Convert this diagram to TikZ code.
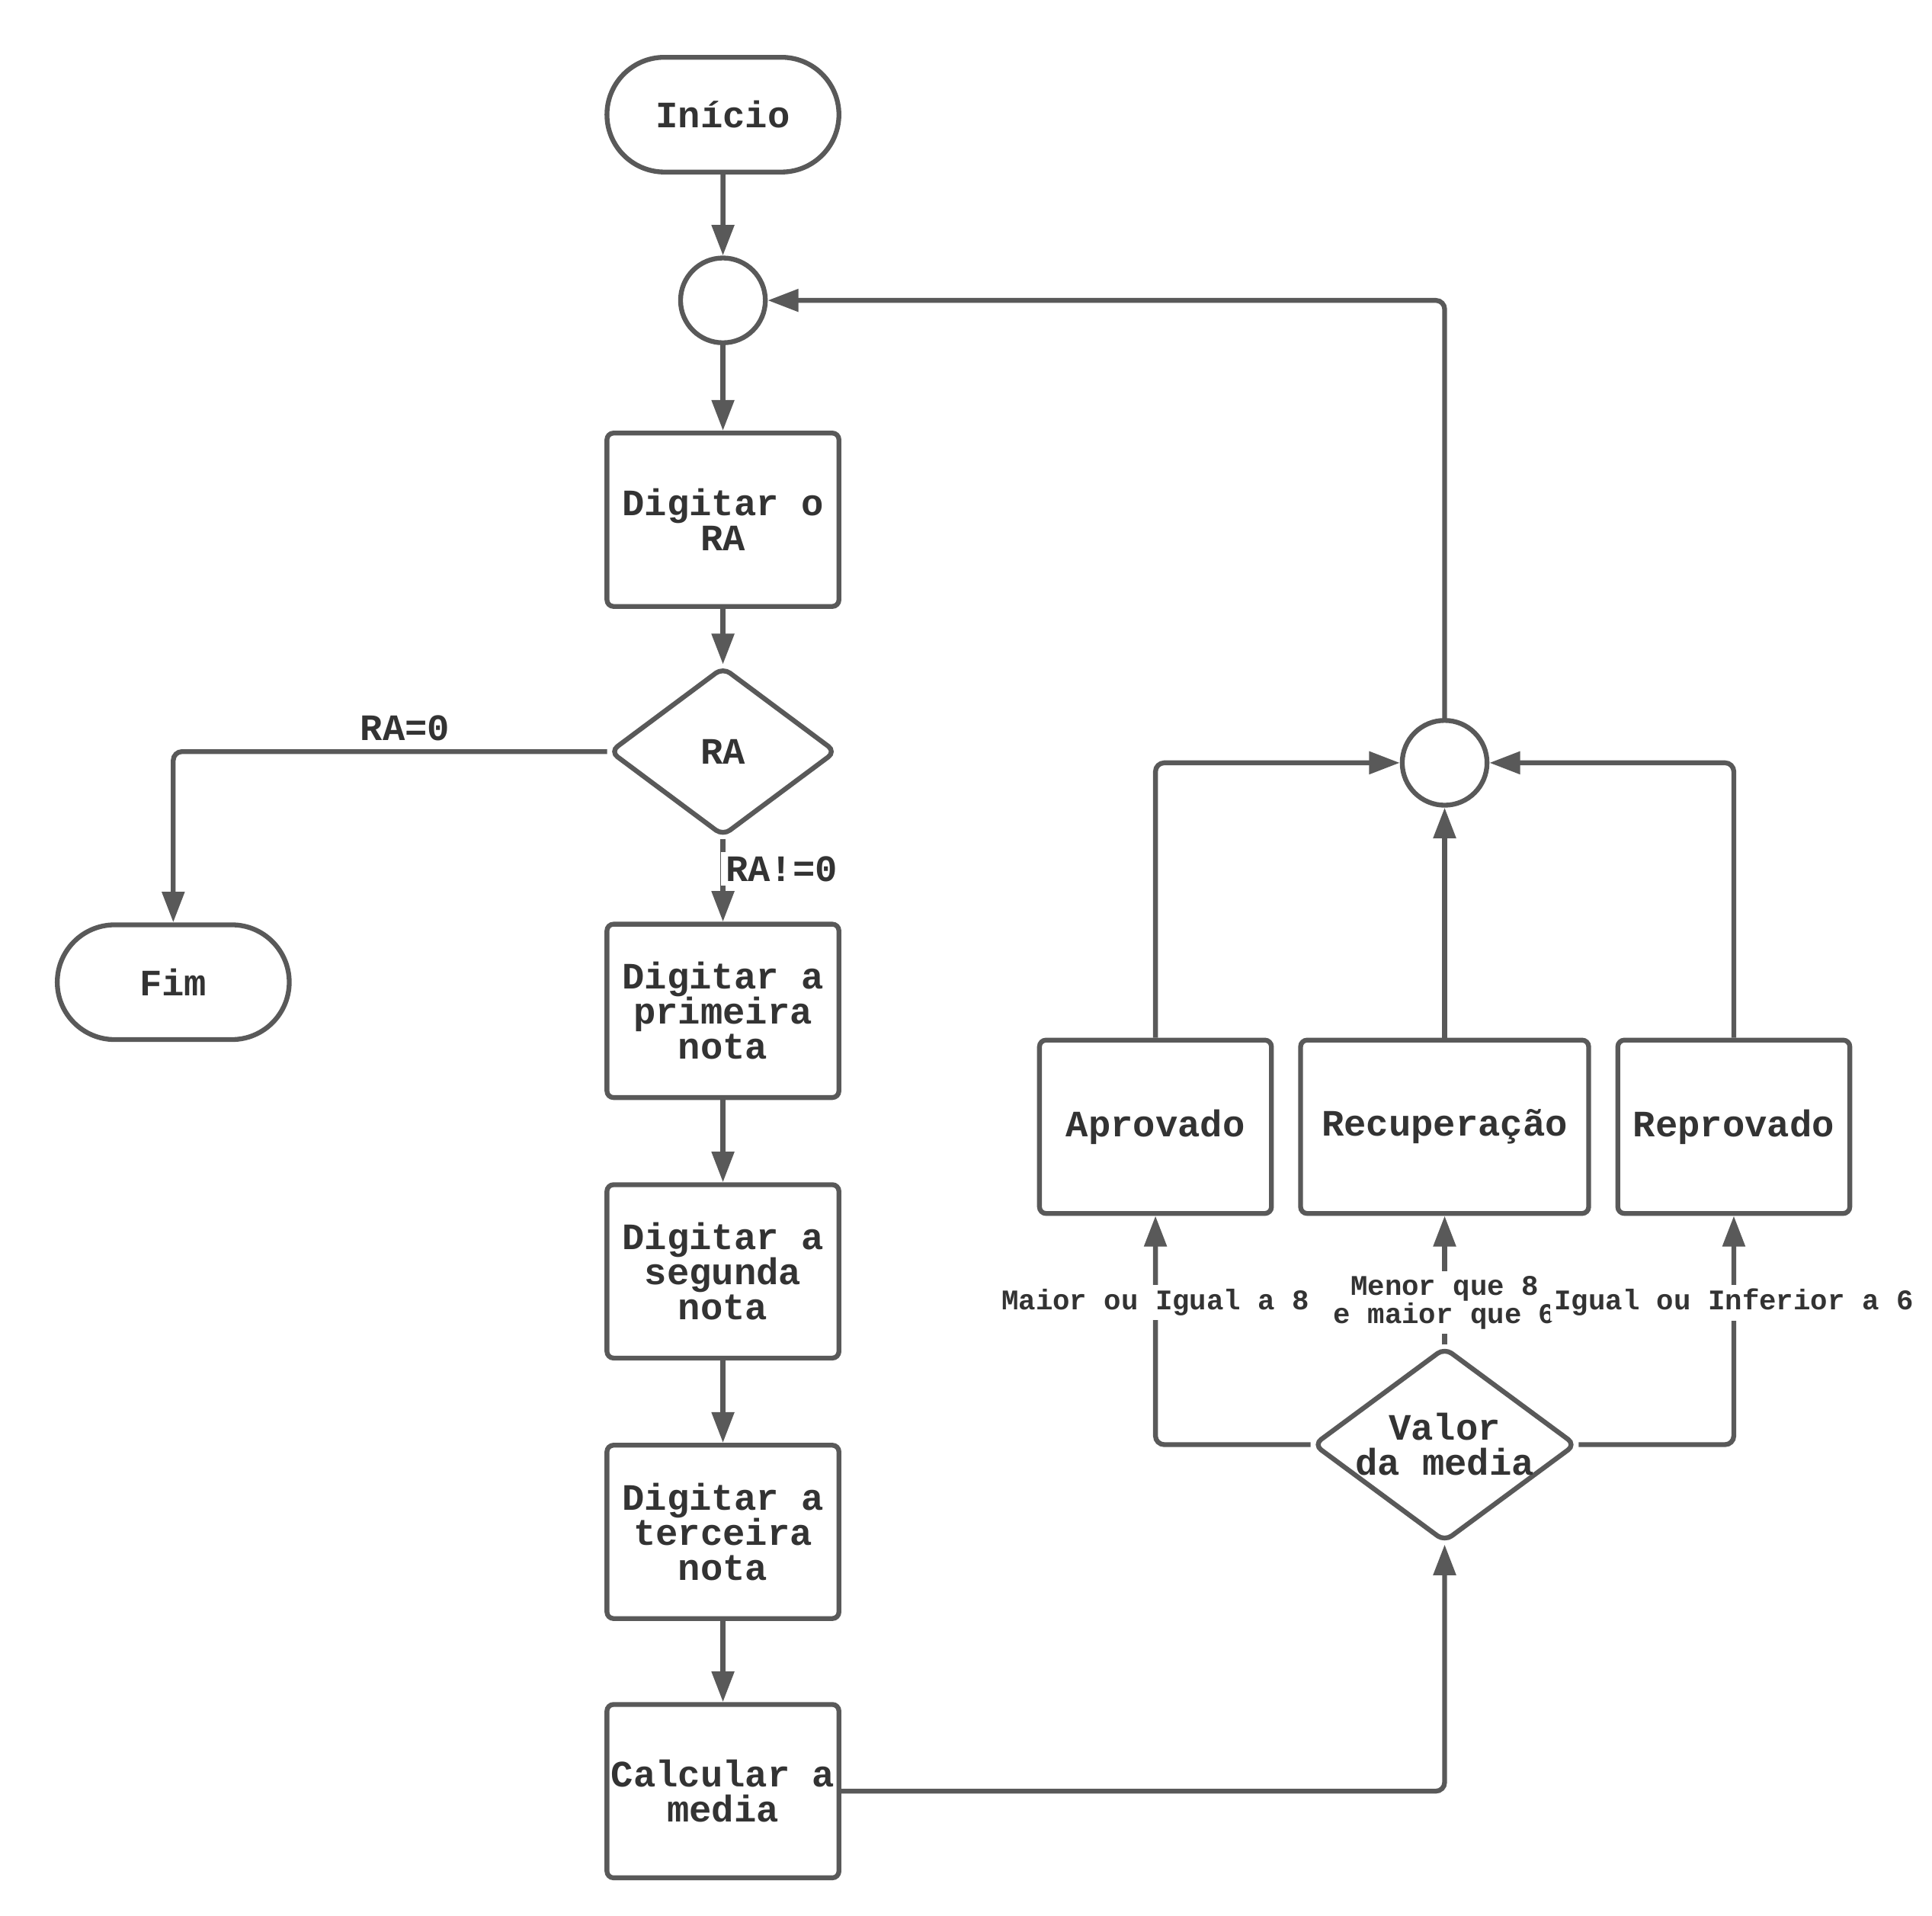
\documentclass[tikz,border=0pt]{standalone}
\usepackage{fontspec}
\setmainfont{Liberation Mono}
\usetikzlibrary{arrows.meta,shapes.geometric,shapes.misc}
\definecolor{linegray}{HTML}{595959}
\definecolor{textgray}{HTML}{333333}
\tikzset{
  base/.style={draw=linegray, line width=1.1pt, text=textgray, font=\fontsize{8.5}{8}\selectfont\bfseries, align=center, inner sep=0pt},
  term/.style={base, rounded rectangle, minimum width=1.86cm, minimum height=0.92cm},
  box/.style={base, rectangle, rounded corners=1.5pt, minimum width=1.86cm, minimum height=1.39cm},
  dec/.style={base, diamond, aspect=1.35, minimum width=1.82cm, minimum height=1.36cm, rounded corners=2pt},
  conn/.style={base, circle, minimum size=0.68cm},
  flow/.style={draw=linegray, line width=1.1pt, rounded corners=2pt, -{Triangle[length=7pt,width=5pt]}},
  lbl/.style={text=textgray, font=\fontsize{6.5}{6.5}\selectfont\bfseries, align=center, fill=white, inner sep=1pt},
}
\begin{document}
\begin{tikzpicture}[x=0.01cm, y=-0.01cm]
  \useasboundingbox (0,0) rectangle (1550,1537);
  % main column
  \node[term] (inicio) at (580,92)   {Início};
  \node[conn] (loop)   at (580,241)  {};
  \node[box]  (ra)     at (580,417)  {Digitar o\\RA};
  \node[dec]  (testra) at (580,603)  {RA};
  \node[term] (fim)    at (139,788)  {Fim};
  \node[box]  (nota1)  at (580,811)  {Digitar a\\primeira\\nota};
  \node[box]  (nota2)  at (580,1020) {Digitar a\\segunda\\nota};
  \node[box]  (nota3)  at (580,1229) {Digitar a\\terceira\\nota};
  \node[box]  (media)  at (580,1437) {Calcular a\\media};
  % result branch
  \node[dec] (valor) at (1159,1159) {Valor\\da media};
  \node[box] (aprov) at (927,904)  {Aprovado};
  \node[box, minimum width=2.31cm] (recup) at (1159,904) {Recuperação};
  \node[box] (reprov) at (1391,904) {Reprovado};
  \node[conn] (merge) at (1159,612) {};
  \coordinate (top) at (1159,241);

  \draw[flow] (inicio) -- (loop);
  \draw[flow] (loop) -- (ra);
  \draw[flow] (ra) -- (testra);
  \draw[flow] (testra.west) -| (fim.north);
  \draw[flow] (testra) -- (nota1);
  \draw[flow] (nota1) -- (nota2);
  \draw[flow] (nota2) -- (nota3);
  \draw[flow] (nota3) -- (media);
  \draw[flow] (media.east) -| (valor.south);
  \draw[flow] (valor.west) -| (aprov.south);
  \draw[flow] (valor.north) -- (recup.south);
  \draw[flow] (valor.east) -| (reprov.south);
  \draw[flow] (aprov.north) |- (merge.west);
  \draw[flow] (recup.north) -- (merge.south);
  \draw[flow] (reprov.north) |- (merge.east);
  \draw[flow] (merge.north) -- (top) -- (loop.east);

  \node[lbl] (l1) at (927,1045)  {Maior ou Igual a 8};
  \node[lbl] (l2) at (1159,1045) {Menor que 8\\e maior que 6};
  \node[lbl] (l3) at (1391,1045) {Igual ou Inferior a 6};
  \node[lbl, font=\fontsize{8.5}{8}\selectfont\bfseries] (l4) at (325,584) {RA=0};
  \node[lbl, font=\fontsize{8.5}{8}\selectfont\bfseries] (l5) at (627,697) {RA!=0};
\end{tikzpicture}
\end{document}
